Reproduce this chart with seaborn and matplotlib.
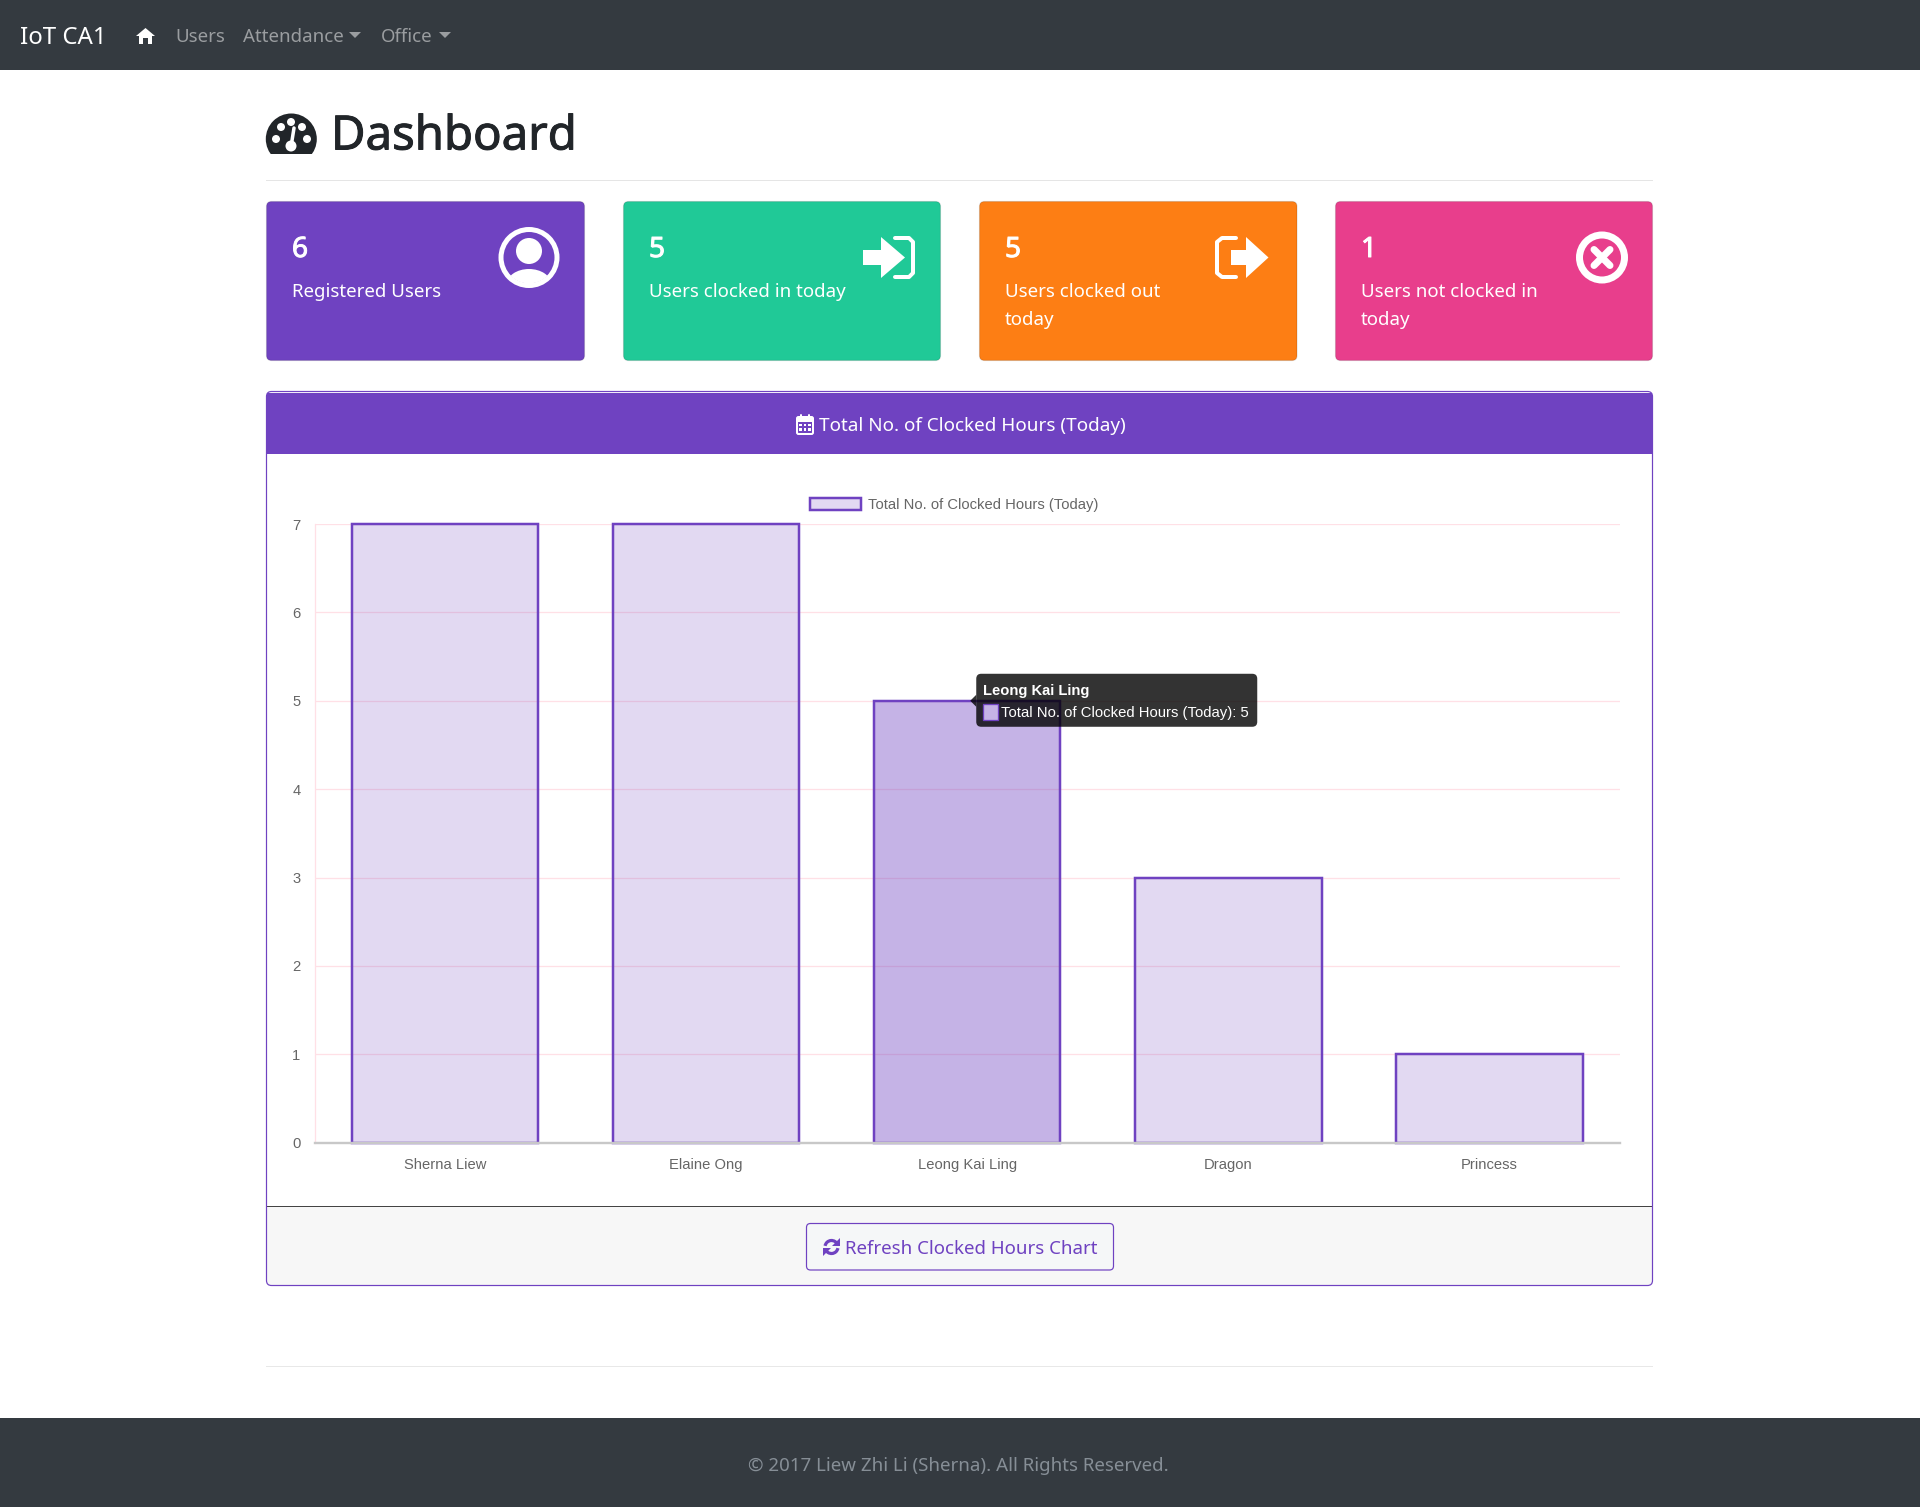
import matplotlib
matplotlib.use('Agg')
import matplotlib.pyplot as plt
import matplotlib.patheffects as pe
import seaborn as sns
from matplotlib.patches import Patch, Rectangle, Circle, Ellipse, Polygon, FancyBboxPatch, Arc

# chart data
names = ['Sherna Liew', 'Elaine Ong', 'Leong Kai Ling', 'Dragon', 'Princess']
hours = [7, 7, 5, 3, 1]
hovered = 'Leong Kai Ling'
series_label = 'Total No. of Clocked Hours (Today)'
y_ticks = [0, 1, 2, 3, 4, 5, 6, 7]

# stat cards along the top
stat_values = ['6', '5', '5', '1']
stat_labels = ['Registered Users', 'Users clocked in today', 'Users clocked out\ntoday', 'Users not clocked in\ntoday']
stat_colors = ['#6f42c1', '#20c997', '#fd7e14', '#e83e8c']

PURPLE = '#6f42c1'
W, H = 1920, 1507
UI_FONT = ['Noto Sans', 'DejaVu Sans']
CHART_FONT = ['Liberation Sans', 'DejaVu Sans']
BODY = 18.7


def px(n):
    # pixels to points at dpi 100
    return n * 0.72


def page_axes(fig, z):
    a = fig.add_axes([0, 0, 1, 1], zorder=z)
    a.set_xlim(0, W)
    a.set_ylim(H, 0)
    a.axis('off')
    return a


def box(a, x0, y0, x1, y1, fc, ec='none', lw=0, r=0, z=1):
    style = 'round,pad=0,rounding_size=%s' % r if r else 'square,pad=0'
    a.add_patch(FancyBboxPatch((x0, y0), x1 - x0, y1 - y0, boxstyle=style, fc=fc, ec=ec,
                               lw=px(lw), zorder=z))


def label(a, x, y, s, size, color, ha='left', va='center', weight='normal', family=UI_FONT, ls=1.25, heavy=0):
    t = a.text(x, y, s, fontsize=px(size), color=color, ha=ha, va=va, fontweight=weight,
               family=family, linespacing=ls, zorder=6)
    if heavy:
        # only regular and bold are installed, thicken for the medium weight
        t.set_path_effects([pe.withStroke(linewidth=heavy, foreground=color)])


def poly(a, pts, fc, z=3):
    a.add_patch(Polygon(pts, closed=True, fc=fc, ec='none', zorder=z))


def stroke(a, pts, color, lw, z=3):
    a.plot([p[0] for p in pts], [p[1] for p in pts], color=color, lw=px(lw),
           solid_capstyle='round', solid_joinstyle='round', zorder=z)


def draw_page(a):
    # nav bar and footer
    box(a, 0, 0, W, 70, '#343a40')
    box(a, 0, 1418, W, H, '#343a40')
    nav = '#9a9da0'
    label(a, 20, 38, 'IoT CA1', 24, 'white')
    poly(a, [(136, 36), (145.5, 28), (155, 36), (152, 36), (152, 44), (148, 44), (148, 38), (143, 38), (143, 44),
             (139, 44), (139, 36)], 'white')
    label(a, 175, 37.5, 'Users', BODY, nav)
    label(a, 243, 37.5, 'Attendance', BODY, nav)
    label(a, 381, 37.5, 'Office', BODY, nav)
    poly(a, [(349, 32), (361, 32), (355, 38)], nav)
    poly(a, [(439, 32), (451, 32), (445, 38)], nav)

    # page heading
    gauge = Circle((291.3, 139), 25.5, fc='#212529', ec='none', zorder=3)
    a.add_patch(gauge)
    gauge.set_clip_path(Rectangle((260, 100), 70, 54, transform=a.transData))
    for cx, cy in [(276, 139), (281, 127), (291, 122), (302, 127), (307, 139)]:
        a.add_patch(Circle((cx, cy), 4, fc='white', ec='none', zorder=4))
    stroke(a, [(291.3, 145), (294, 128)], 'white', 3.5, z=4)
    a.add_patch(Circle((291, 146), 5.5, fc='white', ec='none', zorder=4))
    label(a, 331, 137, 'Dashboard', 47.3, '#212529', heavy=0.7)
    box(a, 266, 180, 1653, 181, '#e5e5e5')

    # stat cards
    card_x = [(266, 585), (623, 941), (979, 1297.5), (1335, 1653)]
    for (x0, x1), value, text, color in zip(card_x, stat_values, stat_labels, stat_colors):
        box(a, x0 + 0.5, 201.5, x1 - 0.5, 360.5, color, ec=(0, 0, 0, 0.125), lw=1.2, r=5)
        label(a, x0 + 26, 250, value, 28, 'white', heavy=0.7)
        label(a, x0 + 26, 292 if '\n' not in text else 306, text, BODY, 'white', ls=1.76)

    # user icon
    a.add_patch(Circle((529, 257.5), 28, fc='none', ec='white', lw=px(5), zorder=3))
    a.add_patch(Circle((529, 251), 13, fc='white', ec='none', zorder=3))
    body = Ellipse((529, 284), 44, 30, fc='white', ec='none', zorder=3)
    a.add_patch(body)
    body.set_clip_path(Circle((529, 257.5), 26, transform=a.transData))

    # clock in icon
    poly(a, [(863, 250), (881, 250), (881, 237), (905, 257.5), (881, 278), (881, 265), (863, 265)], 'white')
    stroke(a, [(895, 238), (909, 238), (913, 242), (913, 273), (909, 277), (895, 277)], 'white', 4)

    # clock out icon
    poly(a, [(1231, 250), (1246, 250), (1246, 237), (1268.5, 257.5), (1246, 278), (1246, 265), (1231, 265)], 'white')
    stroke(a, [(1236, 238), (1222, 238), (1217, 242), (1217, 273), (1222, 277), (1236, 277)], 'white', 4)

    # not clocked in icon
    a.add_patch(Circle((1602, 257.5), 22.5, fc='none', ec='white', lw=px(7), zorder=3))
    stroke(a, [(1594, 249.5), (1610, 265.5)], 'white', 7)
    stroke(a, [(1610, 249.5), (1594, 265.5)], 'white', 7)

    # chart panel, border goes on last so the header and foot don't cover it
    box(a, 266.5, 391.5, 1652.5, 1285.5, 'white', r=5, z=1)
    box(a, 267, 393, 1652, 454, PURPLE, z=2)
    box(a, 267, 1207, 1652, 1285, '#f7f7f7', z=2)
    box(a, 267, 1206, 1652, 1207, '#444444', z=2)
    box(a, 266.5, 391.5, 1652.5, 1285.5, 'none', ec=PURPLE, lw=1.2, r=5, z=3)
    box(a, 806.5, 1223.5, 1113.5, 1270, '#f5f7f8', ec=PURPLE, lw=1.2, r=4, z=3)

    # calendar icon
    box(a, 797, 417, 813, 434, 'none', ec='white', lw=2, r=1.5, z=3)
    box(a, 797, 417, 813, 422, 'white', z=3)
    for gx in [800.5, 805, 809.5]:
        for gy in [425, 429.5]:
            box(a, gx - 1.3, gy - 1.3, gx + 1.3, gy + 1.3, 'white', z=3)
    stroke(a, [(801, 414.5), (801, 418)], 'white', 2)
    stroke(a, [(809, 414.5), (809, 418)], 'white', 2)
    label(a, 819, 426, series_label, 18.9, 'white')

    # refresh icon
    a.add_patch(Arc((831.5, 1247), 13, 13, theta1=190, theta2=340, ec=PURPLE, lw=px(3.2), zorder=4))
    a.add_patch(Arc((831.5, 1247), 13, 13, theta1=10, theta2=160, ec=PURPLE, lw=px(3.2), zorder=4))
    poly(a, [(840, 1238), (840, 1246), (832, 1246)], PURPLE, z=4)
    poly(a, [(823, 1256), (823, 1248), (831, 1248)], PURPLE, z=4)
    label(a, 845, 1249, 'Refresh Clocked Hours Chart', BODY, PURPLE)

    box(a, 266, 1366, 1653, 1367, '#e8e8e8')
    label(a, 958, 1466, '\u00a9 2017 Liew Zhi Li (Sherna). All Rights Reserved.', BODY, '#868e96', ha='center')


def draw_chart(fig):
    left, right, top, bottom = 314.5, 1620, 524, 1142.7
    ax = fig.add_axes([left / W, 1 - bottom / H, (right - left) / W, (bottom - top) / H], zorder=1)
    ax.patch.set_visible(False)

    sns.barplot(x=names, y=hours, hue=names, palette=[PURPLE] * len(names), legend=False, saturation=1,
                width=0.714, edgecolor=PURPLE, linewidth=px(2.5), ax=ax)
    for name, bar in zip(names, ax.patches):
        bar.set_facecolor(matplotlib.colors.to_rgba(PURPLE, 0.4 if name == hovered else 0.2))
        bar.set_edgecolor(PURPLE)
        bar.set_clip_on(False)

    ax.set_xlim(-0.5, len(names) - 0.5)
    ax.set_ylim(0, 7)
    ax.set_yticks(y_ticks)
    ax.set_ylabel('')
    ax.set_xlabel('')
    ax.set_axisbelow(True)
    ax.grid(True, axis='y', color='#ffe0e6', lw=px(1.3))
    ax.grid(False, axis='x')
    for side in ['top', 'right']:
        ax.spines[side].set_visible(False)
    ax.spines['left'].set_color('#ffe0e6')
    ax.spines['left'].set_linewidth(px(1.3))
    ax.spines['bottom'].set_color('#c8c8c8')
    ax.spines['bottom'].set_linewidth(px(2.4))
    ax.spines['bottom'].set_zorder(5)
    ax.tick_params(axis='y', length=px(12), width=px(1.3), color='#ffe0e6', pad=px(2), labelsize=px(14.7),
                   labelcolor='#666666')
    ax.tick_params(axis='x', length=0, pad=px(15), labelsize=px(14.7), labelcolor='#666666')
    for t in ax.get_xticklabels() + ax.get_yticklabels():
        t.set_family(CHART_FONT)
    for t in ax.get_yticklabels():
        t.set_va('center_baseline')

    # chart.js style legend above the bars
    handle = Patch(fc=matplotlib.colors.to_rgba(PURPLE, 0.2), ec=PURPLE, lw=px(2.5))
    ax.legend(handles=[handle], labels=[series_label], loc='center', frameon=False,
              bbox_to_anchor=(954 / W, 1 - 505 / H), bbox_transform=fig.transFigure,
              prop={'family': CHART_FONT, 'size': px(14.7)}, labelcolor='#666666',
              handlelength=3.5, handleheight=0.9, handletextpad=0.45, borderpad=0)
    return ax


def draw_tooltip(a, ax):
    # tooltip hangs off the top centre of the hovered bar
    i = names.index(hovered)
    tx, ty = ax.transData.transform((i, hours[i]))
    tx, ty = tx + 3, H - ty
    dark = (0, 0, 0, 0.8)
    poly(a, [(tx, ty), (tx + 6, ty - 6), (tx + 6, ty + 6)], dark)
    box(a, tx + 6, ty - 27, tx + 287, ty + 26, dark, r=5, z=3)
    label(a, tx + 13, ty - 10, hovered, 14.7, 'white', weight='bold', family=CHART_FONT)
    box(a, tx + 13, ty + 3.5, tx + 28, ty + 19, '#c5b3e6', ec=PURPLE, lw=1.3, z=4)
    label(a, tx + 31, ty + 12.5, series_label + ': ' + str(hours[i]), 14.9, 'white', family=CHART_FONT)


sns.set_theme(style='white')
plt.rcParams['font.family'] = UI_FONT

fig = plt.figure(figsize=(W / 100, H / 100), dpi=100)
page = page_axes(fig, 0)
draw_page(page)
chart_ax = draw_chart(fig)
top_layer = page_axes(fig, 2)
draw_tooltip(top_layer, chart_ax)

fig.savefig('out.png', dpi=100)
